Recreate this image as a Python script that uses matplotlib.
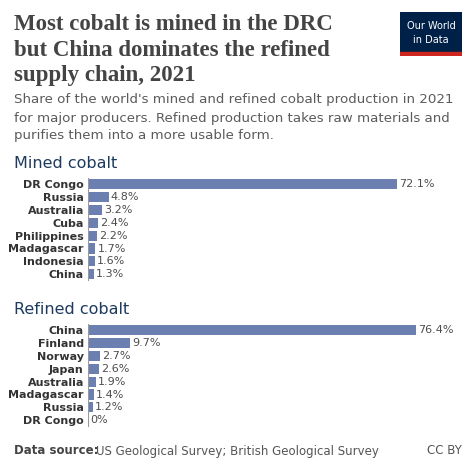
import matplotlib
matplotlib.use('Agg')
import matplotlib.pyplot as plt
from matplotlib.patches import Rectangle

W = H = 474
mined_countries = ['DR Congo', 'Russia', 'Australia', 'Cuba', 'Philippines', 'Madagascar', 'Indonesia', 'China']
mined_share = [72.1, 4.8, 3.2, 2.4, 2.2, 1.7, 1.6, 1.3]
refined_countries = ['China', 'Finland', 'Norway', 'Japan', 'Australia', 'Madagascar', 'Russia', 'DR Congo']
refined_share = [76.4, 9.7, 2.7, 2.6, 1.9, 1.4, 1.2, 0.0]

BAR = '#6b7fb0'
TXT = '#4d4d4d'
HEAD = '#1d3a5f'

fig = plt.figure(figsize=(W / 100, H / 100), dpi=100)
fig.patch.set_facecolor('white')

def fx(px):
    return px / W

def fy(py):
    return 1 - py / H

# title / subtitle
for i, line in enumerate(['Most cobalt is mined in the DRC',
                          'but China dominates the refined',
                          'supply chain, 2021']):
    fig.text(fx(14), fy(25 + i * 25), line, family='Liberation Serif', fontsize=16.5,
             fontweight='bold', color='#444444', va='center')
for i, line in enumerate(["Share of the world's mined and refined cobalt production in 2021",
                          'for major producers. Refined production takes raw materials and',
                          'purifies them into a more usable form.']):
    fig.text(fx(14), fy(100 + i * 18), line, fontsize=9.6, color='#5b5b5b', va='center')

# logo
logo = fig.add_axes([fx(400), fy(56), fx(62), 44 / H])
logo.add_patch(Rectangle((0, 0), 1, 1, color='#002147'))
logo.add_patch(Rectangle((0, 0), 1, 0.08, color='#ce261e'))
logo.text(0.5, 0.68, 'Our World', color='white', ha='center', va='center', fontsize=7)
logo.text(0.5, 0.36, 'in Data', color='white', ha='center', va='center', fontsize=7)
logo.set_xlim(0, 1); logo.set_ylim(0, 1); logo.axis('off')

def panel(header, header_y, top, countries, values):
    fig.text(fx(14), fy(header_y), header, fontsize=11.5, color=HEAD, va='center')
    step = 12.9
    n = len(countries)
    ax = fig.add_axes([fx(88), fy(top + step * n - step / 2), fx(4.29 * 90), step * n / H])
    y = list(range(n))
    ax.barh(y, values, height=0.78, color=BAR)
    ax.set_ylim(n - 0.5, -0.5)
    ax.set_xlim(0, 90)
    for yi, v in zip(y, values):
        ax.text(v + 0.5, yi, f'{v:.1f}%' if v > 0 else '0%', va='center', fontsize=8, color=TXT)
    ax.set_yticks(y)
    ax.set_yticklabels(countries, fontsize=8, color='#333333', fontweight='semibold')
    ax.tick_params(length=0, pad=3)
    ax.set_xticks([])
    ax.axvline(0, color='#999999', lw=0.8)
    for s in ax.spines.values():
        s.set_visible(False)

panel('Mined cobalt', 163, 184, mined_countries, mined_share)
panel('Refined cobalt', 310, 330, refined_countries, refined_share)

fig.text(fx(14), fy(451), 'Data source:', fontsize=8.5, fontweight='bold', color='#444444', va='center')
fig.text(fx(96), fy(451), 'US Geological Survey; British Geological Survey', fontsize=8.5,
         color='#555555', va='center')
fig.text(fx(462), fy(451), 'CC BY', fontsize=8.5, color='#555555', va='center', ha='right')

fig.savefig('out.png', dpi=100)
